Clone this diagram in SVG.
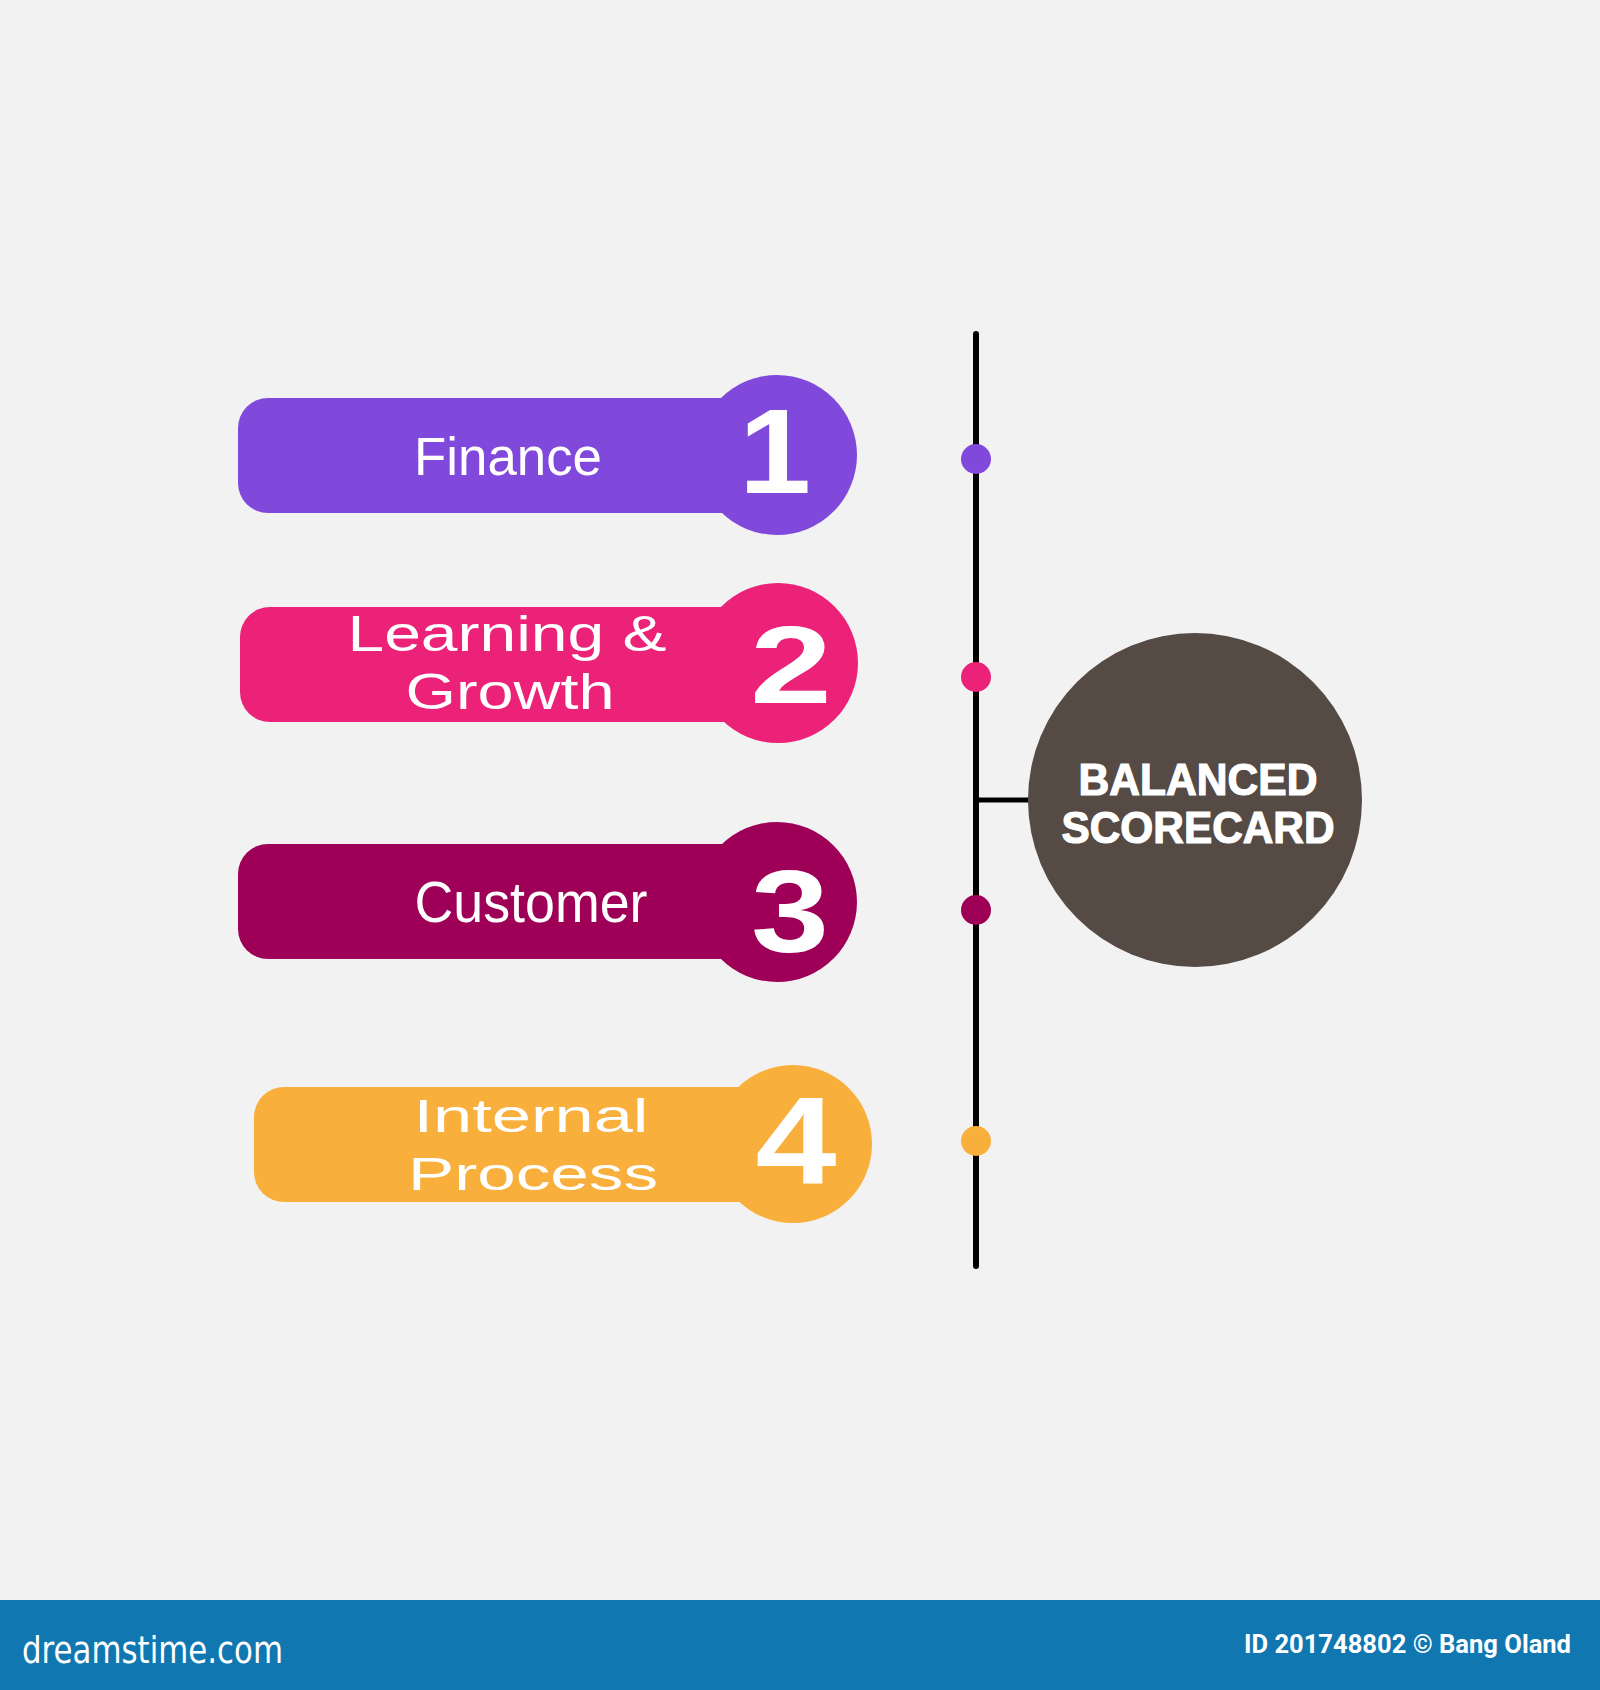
<svg xmlns="http://www.w3.org/2000/svg" width="1600" height="1690" viewBox="0 0 1600 1690">
<style>
.lbl{font-family:"Liberation Sans",Arial,sans-serif;fill:#fff;text-anchor:middle}
.num{font-family:"Liberation Sans",Arial,sans-serif;font-weight:bold;fill:#fff;text-anchor:middle}
.hub{font-family:"Liberation Sans",Arial,sans-serif;font-weight:bold;fill:#fff;text-anchor:middle;font-size:44px;stroke:#fff;stroke-width:1.2}
.foot{font-family:Roboto,"Liberation Sans",sans-serif;font-weight:bold;fill:#fff}
</style>
<rect x="0" y="0" width="1600" height="1690" fill="#f2f2f2"/>
<g id="connectors" stroke="#000" fill="none" stroke-linecap="round">
  <line x1="976" y1="334" x2="976" y2="1266" stroke-width="6"/>
  <line x1="976" y1="800" x2="1032" y2="800" stroke-width="5" stroke-linecap="butt"/>
</g>
<g id="dots">
  <circle cx="976" cy="459" r="15" fill="#8049dc"/>
  <circle cx="976" cy="677" r="15" fill="#ec2178"/>
  <circle cx="976" cy="910" r="15" fill="#9e0058"/>
  <circle cx="976" cy="1141" r="15" fill="#f9af3c"/>
</g>
<g id="node-finance">
  <rect x="238" y="398" width="540" height="115" rx="30" fill="#8049dc"/>
  <circle cx="777" cy="455" r="80" fill="#8049dc"/>
  <text class="lbl" x="508" y="475" font-size="53" textLength="188" lengthAdjust="spacingAndGlyphs">Finance</text>
  <text class="num" x="775" y="493" font-size="120" textLength="72" lengthAdjust="spacingAndGlyphs">1</text>
</g>
<g id="node-learning">
  <rect x="240" y="607" width="540" height="115" rx="30" fill="#ec2178"/>
  <circle cx="778" cy="663" r="80" fill="#ec2178"/>
  <text class="lbl" x="507" y="651" font-size="50" textLength="319" lengthAdjust="spacingAndGlyphs">Learning &amp;</text>
  <text class="lbl" x="510" y="709" font-size="50" textLength="209" lengthAdjust="spacingAndGlyphs">Growth</text>
  <text class="num" x="791" y="703" font-size="109" textLength="82" lengthAdjust="spacingAndGlyphs">2</text>
</g>
<g id="node-customer">
  <rect x="238" y="844" width="540" height="115" rx="30" fill="#9e0058"/>
  <circle cx="777" cy="902" r="80" fill="#9e0058"/>
  <text class="lbl" x="531" y="922" font-size="57" textLength="233" lengthAdjust="spacingAndGlyphs">Customer</text>
  <text class="num" x="790" y="952" font-size="117" textLength="78" lengthAdjust="spacingAndGlyphs">3</text>
</g>
<g id="node-internal">
  <rect x="254" y="1087" width="540" height="115" rx="30" fill="#f9af3c"/>
  <circle cx="793" cy="1144" r="79" fill="#f9af3c"/>
  <text class="lbl" x="531" y="1132" font-size="47" textLength="235" lengthAdjust="spacingAndGlyphs">Internal</text>
  <text class="lbl" x="533" y="1190" font-size="47" textLength="250" lengthAdjust="spacingAndGlyphs">Process</text>
  <text class="num" x="796" y="1183" font-size="125" textLength="81" lengthAdjust="spacingAndGlyphs">4</text>
</g>
<g id="node-hub">
  <circle cx="1195" cy="800" r="167" fill="#554a44"/>
  <text class="hub" x="1198" y="795" textLength="239" lengthAdjust="spacingAndGlyphs">BALANCED</text>
  <text class="hub" x="1198" y="843" textLength="273" lengthAdjust="spacingAndGlyphs">SCORECARD</text>
</g>
<g id="footer">
  <rect x="0" y="1600" width="1600" height="90" fill="#1177b0"/>
  <text x="22" y="1663" font-family="'DejaVu Sans',sans-serif" font-size="38" fill="#fff" textLength="261" lengthAdjust="spacingAndGlyphs">dreamstime.com</text>
  <text class="foot" x="1244" y="1653" font-size="25" textLength="327" lengthAdjust="spacingAndGlyphs">ID 201748802 © Bang Oland</text>
</g>
</svg>
